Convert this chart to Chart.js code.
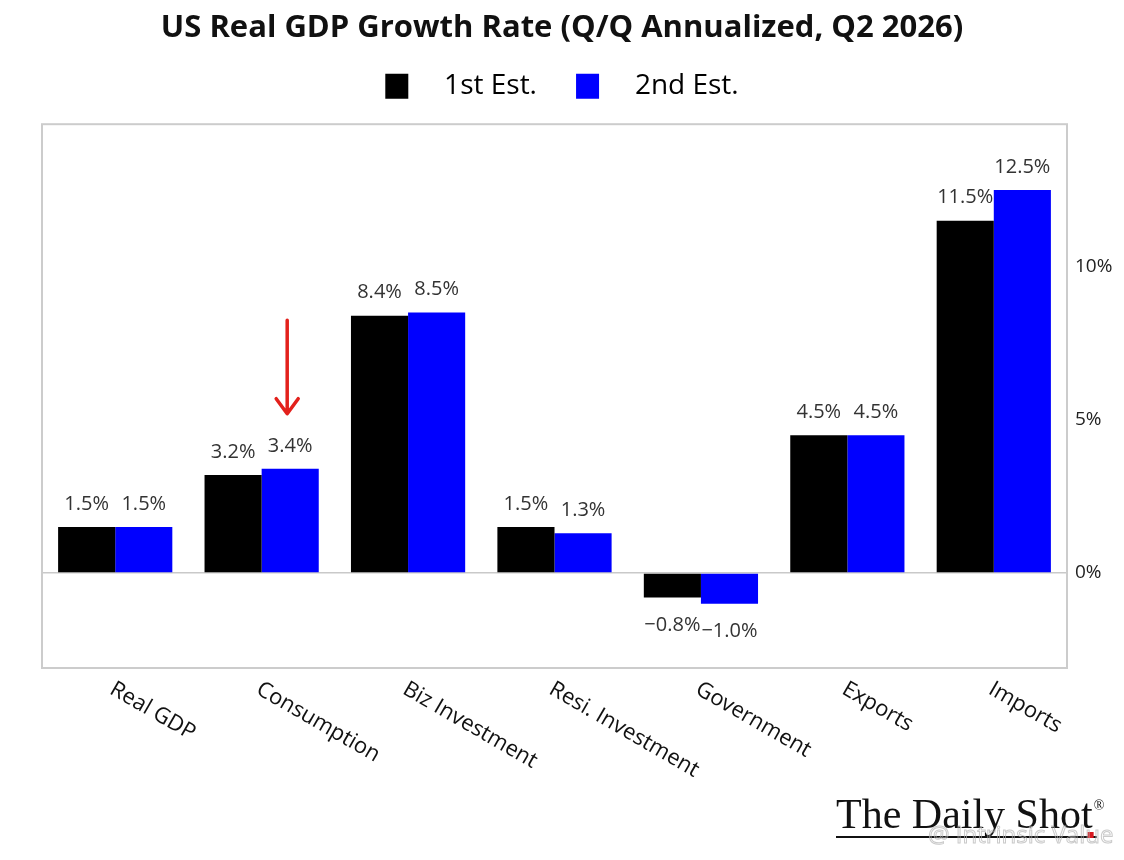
<!DOCTYPE html>
<html>
<head>
<meta charset="utf-8">
<script src="https://cdn.jsdelivr.net/npm/chart.js@4.4.1/dist/chart.umd.min.js"></script>
<style>
  html, body { margin: 0; padding: 0; background: #fff; }
</style>
</head>
<body>
<canvas id="gdpChart" width="1124" height="860"></canvas>
<script>
const categories = ['Real GDP', 'Consumption', 'Biz Investment', 'Resi. Investment', 'Government', 'Exports', 'Imports'];
const seriesNames = ['1st Est.', '2nd Est.'];
const firstEst = [1.5, 3.2, 8.4, 1.5, -0.8, 4.5, 11.5];
const secondEst = [1.5, 3.4, 8.5, 1.3, -1.0, 4.5, 12.5];
const yTicks = [0, 5, 10];
// red arrow pointing at the revised consumption bar (in y units)
const arrowFrom = 8.25;
const arrowTo = 5.2;

Chart.defaults.font.family = '"Open Sans"';

const pct = v => (v < 0 ? '\u2212' : '') + Math.abs(v).toFixed(1) + '%';

// push the plot area down a bit under the legend
const legendGap = {
  id: 'legendGap',
  beforeInit(chart) {
    const fit = chart.legend.fit;
    chart.legend.fit = function () {
      fit.bind(chart.legend)();
      this.height += 14;
    };
  }
};

const extras = {
  id: 'extras',
  afterDatasetsDraw(chart) {
    const ctx = chart.ctx;
    const area = chart.chartArea;

    // frame round the plot
    ctx.save();
    ctx.strokeStyle = '#cccccc';
    ctx.lineWidth = 2;
    ctx.strokeRect(area.left, area.top, area.right - area.left, area.bottom - area.top);

    // value labels
    ctx.font = '20px "Open Sans"';
    ctx.fillStyle = '#333';
    ctx.textAlign = 'center';
    ctx.textBaseline = 'middle';
    chart.data.datasets.forEach((ds, i) => {
      chart.getDatasetMeta(i).data.forEach((bar, j) => {
        const v = ds.data[j];
        const y = v >= 0 ? bar.y - 23 : bar.y + 28;
        ctx.fillText(pct(v), bar.x, y);
      });
    });
    ctx.restore();
  },
  afterDraw(chart) {
    const ctx = chart.ctx;
    const xs = chart.scales.x;
    const ys = chart.scales.y;
    const area = chart.chartArea;

    // rotated category labels
    ctx.save();
    ctx.font = '22px "Open Sans"';
    ctx.fillStyle = '#111';
    ctx.textAlign = 'left';
    ctx.textBaseline = 'top';
    categories.forEach((c, i) => {
      ctx.save();
      ctx.translate(xs.getPixelForValue(i) + 2, area.bottom + 10);
      ctx.rotate(Math.PI / 6);
      ctx.fillText(c, 0, 0);
      ctx.restore();
    });
    ctx.restore();

    // arrow
    const bar = chart.getDatasetMeta(1).data[1];
    const ax = bar.x - 3;
    const y1 = ys.getPixelForValue(arrowFrom);
    const y2 = ys.getPixelForValue(arrowTo);
    ctx.save();
    ctx.strokeStyle = '#e3211c';
    ctx.lineWidth = 3.5;
    ctx.lineCap = 'round';
    ctx.lineJoin = 'round';
    ctx.beginPath();
    ctx.moveTo(ax, y1);
    ctx.lineTo(ax, y2);
    ctx.moveTo(ax - 11, y2 - 15);
    ctx.lineTo(ax, y2);
    ctx.lineTo(ax + 11, y2 - 15);
    ctx.stroke();
    ctx.restore();

    // source mark
    ctx.save();
    ctx.font = '42px "Liberation Serif"';
    ctx.fillStyle = '#111';
    ctx.textBaseline = 'alphabetic';
    ctx.textAlign = 'left';
    const w = ctx.measureText('The Daily Shot').width;
    ctx.fillText('The Daily Shot', 836, 828);
    ctx.font = '14px "Liberation Serif"';
    ctx.fillText('\u00ae', 836 + w + 1, 810);
    ctx.fillRect(836, 836, w + 4, 2);
    ctx.fillStyle = '#d71920';
    ctx.fillRect(836 + w - 5, 832, 6, 6);
    ctx.font = '24px "Open Sans"';
    ctx.strokeStyle = 'rgba(180,180,180,0.7)';
    ctx.lineWidth = 1;
    ctx.textBaseline = 'middle';
    ctx.strokeText('@ Intrinsic Value', 928, 836);
    ctx.restore();
  }
};

new Chart(document.getElementById('gdpChart'), {
  type: 'bar',
  data: {
    labels: categories,
    datasets: [
      { label: seriesNames[0], data: firstEst, backgroundColor: '#000000', borderWidth: 0, xAxisID: 'x', yAxisID: 'y' },
      { label: seriesNames[1], data: secondEst, backgroundColor: '#0000ff', borderWidth: 0, xAxisID: 'x', yAxisID: 'y' }
    ]
  },
  options: {
    responsive: false,
    animation: false,
    barPercentage: 1.0,
    categoryPercentage: 0.78,
    layout: { padding: { left: 0, right: 0, top: 0, bottom: 192 } },
    plugins: {
      title: {
        display: true,
        text: 'US Real GDP Growth Rate (Q/Q Annualized, Q2 2026)',
        color: '#111',
        font: { size: 31, weight: 'bold' },
        padding: { top: 10, bottom: 15 }
      },
      legend: {
        labels: {
          boxWidth: 23,
          boxHeight: 25,
          padding: 10,
          color: '#111',
          font: { size: 28 },
          generateLabels: chart => chart.data.datasets.map((d, i, all) => ({
            text: '   ' + d.label + (i < all.length - 1 ? '    ' : ''),
            fillStyle: d.backgroundColor,
            strokeStyle: d.backgroundColor,
            lineWidth: 0,
            datasetIndex: i,
            hidden: false
          }))
        }
      },
      tooltip: { enabled: false }
    },
    scales: {
      x: { display: false, offset: true },
      // empty spacer on the left so the plot starts where the original does
      pad: {
        type: 'linear',
        axis: 'y',
        position: 'left',
        afterFit: s => { s.width = 42; },
        border: { display: false },
        grid: { display: false },
        ticks: { display: false }
      },
      y: {
        position: 'right',
        min: -3.1,
        max: 14.65,
        afterBuildTicks: s => { s.ticks = yTicks.map(v => ({ value: v })); },
        afterFit: s => { s.width = 57; },
        border: { display: false },
        grid: {
          drawTicks: false,
          lineWidth: 1.5,
          color: c => (c.tick && c.tick.value === 0 ? '#c9c9c9' : 'rgba(0,0,0,0)')
        },
        ticks: {
          padding: 8,
          color: '#222',
          font: { size: 19 },
          callback: v => v + '%'
        }
      }
    }
  },
  plugins: [legendGap, extras]
});
</script>
</body>
</html>
